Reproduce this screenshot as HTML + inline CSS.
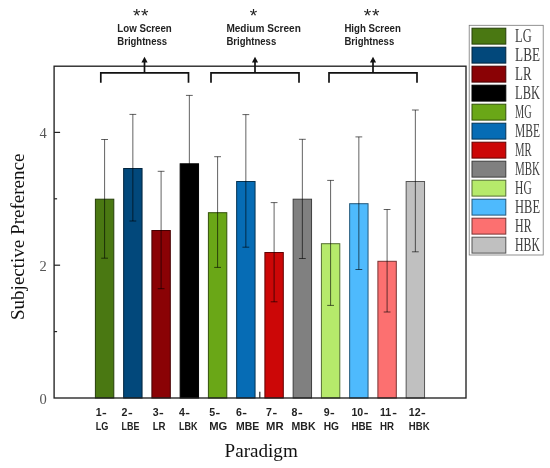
<!DOCTYPE html>
<html><head><meta charset="utf-8"><title>Subjective Preference by Paradigm</title>
<style>
html,body{margin:0;padding:0;background:#fff;}
body{width:550px;height:468px;overflow:hidden;}
svg{display:block;}
.sans{font-family:"Liberation Sans","DejaVu Sans",sans-serif;}
.serif{font-family:"Liberation Serif","DejaVu Serif",serif;}
.sb{font-weight:bold;fill:#222;}
</style></head><body>
<svg width="550" height="468" viewBox="0 0 550 468">
<rect width="550" height="468" fill="#fff"/>

<rect x="95.40" y="199.20" width="18.40" height="198.80" fill="#4a7812" stroke="#263f09" stroke-width="1"/>
<g stroke="#000" stroke-width="0.62" fill="none"><line x1="104.60" y1="139.50" x2="104.60" y2="258.20"/><line x1="101.20" y1="139.50" x2="108.00" y2="139.50"/><line x1="101.20" y1="258.20" x2="108.00" y2="258.20"/></g>
<rect x="123.65" y="168.50" width="18.40" height="229.50" fill="#02487b" stroke="#02243d" stroke-width="1"/>
<g stroke="#000" stroke-width="0.62" fill="none"><line x1="132.85" y1="114.40" x2="132.85" y2="221.00"/><line x1="129.45" y1="114.40" x2="136.25" y2="114.40"/><line x1="129.45" y1="221.00" x2="136.25" y2="221.00"/></g>
<rect x="151.90" y="230.50" width="18.40" height="167.50" fill="#8a0205" stroke="#450102" stroke-width="1"/>
<g stroke="#000" stroke-width="0.62" fill="none"><line x1="161.10" y1="171.30" x2="161.10" y2="288.70"/><line x1="157.70" y1="171.30" x2="164.50" y2="171.30"/><line x1="157.70" y1="288.70" x2="164.50" y2="288.70"/></g>
<rect x="180.15" y="163.80" width="18.40" height="234.20" fill="#000000" stroke="#000000" stroke-width="1"/>
<g stroke="#000" stroke-width="0.62" fill="none"><line x1="189.35" y1="95.40" x2="189.35" y2="231.20"/><line x1="185.95" y1="95.40" x2="192.75" y2="95.40"/><line x1="185.95" y1="231.20" x2="192.75" y2="231.20"/></g>
<rect x="208.40" y="212.70" width="18.40" height="185.30" fill="#6aa717" stroke="#33520a" stroke-width="1"/>
<g stroke="#000" stroke-width="0.62" fill="none"><line x1="217.60" y1="156.70" x2="217.60" y2="267.40"/><line x1="214.20" y1="156.70" x2="221.00" y2="156.70"/><line x1="214.20" y1="267.40" x2="221.00" y2="267.40"/></g>
<rect x="236.65" y="181.50" width="18.40" height="216.50" fill="#066cb5" stroke="#043353" stroke-width="1"/>
<g stroke="#000" stroke-width="0.62" fill="none"><line x1="245.85" y1="114.60" x2="245.85" y2="247.20"/><line x1="242.45" y1="114.60" x2="249.25" y2="114.60"/><line x1="242.45" y1="247.20" x2="249.25" y2="247.20"/></g>
<rect x="264.90" y="252.50" width="18.40" height="145.50" fill="#cc0707" stroke="#630303" stroke-width="1"/>
<g stroke="#000" stroke-width="0.62" fill="none"><line x1="274.10" y1="202.60" x2="274.10" y2="301.80"/><line x1="270.70" y1="202.60" x2="277.50" y2="202.60"/><line x1="270.70" y1="301.80" x2="277.50" y2="301.80"/></g>
<rect x="293.15" y="199.20" width="18.40" height="198.80" fill="#808080" stroke="#3d3d3d" stroke-width="1"/>
<g stroke="#000" stroke-width="0.62" fill="none"><line x1="302.35" y1="139.30" x2="302.35" y2="258.50"/><line x1="298.95" y1="139.30" x2="305.75" y2="139.30"/><line x1="298.95" y1="258.50" x2="305.75" y2="258.50"/></g>
<rect x="321.40" y="243.70" width="18.40" height="154.30" fill="#b6ea6b" stroke="#556e32" stroke-width="1"/>
<g stroke="#000" stroke-width="0.62" fill="none"><line x1="330.60" y1="180.40" x2="330.60" y2="305.40"/><line x1="327.20" y1="180.40" x2="334.00" y2="180.40"/><line x1="327.20" y1="305.40" x2="334.00" y2="305.40"/></g>
<rect x="349.65" y="203.70" width="18.40" height="194.30" fill="#4ebafd" stroke="#24587a" stroke-width="1"/>
<g stroke="#000" stroke-width="0.62" fill="none"><line x1="358.85" y1="136.90" x2="358.85" y2="269.50"/><line x1="355.45" y1="136.90" x2="362.25" y2="136.90"/><line x1="355.45" y1="269.50" x2="362.25" y2="269.50"/></g>
<rect x="377.90" y="261.30" width="18.40" height="136.70" fill="#fc7070" stroke="#783434" stroke-width="1"/>
<g stroke="#000" stroke-width="0.62" fill="none"><line x1="387.10" y1="209.50" x2="387.10" y2="312.00"/><line x1="383.70" y1="209.50" x2="390.50" y2="209.50"/><line x1="383.70" y1="312.00" x2="390.50" y2="312.00"/></g>
<rect x="406.15" y="181.50" width="18.40" height="216.50" fill="#c0c0c0" stroke="#555555" stroke-width="1"/>
<g stroke="#000" stroke-width="0.62" fill="none"><line x1="415.35" y1="110.00" x2="415.35" y2="251.80"/><line x1="411.95" y1="110.00" x2="418.75" y2="110.00"/><line x1="411.95" y1="251.80" x2="418.75" y2="251.80"/></g>
<rect x="54.1" y="66.2" width="411.9" height="331.80" fill="none" stroke="#222" stroke-width="1.35"/>
<text class="serif" x="46.8" y="403.60" font-size="14.5" fill="#555" text-anchor="end">0</text>
<line x1="54.1" y1="331.60" x2="57.1" y2="331.60" stroke="#222" stroke-width="1.2"/>
<line x1="54.1" y1="265.20" x2="60.1" y2="265.20" stroke="#222" stroke-width="1.2"/>
<text class="serif" x="46.8" y="270.80" font-size="14.5" fill="#555" text-anchor="end">2</text>
<line x1="54.1" y1="198.80" x2="57.1" y2="198.80" stroke="#222" stroke-width="1.2"/>
<line x1="54.1" y1="132.40" x2="60.1" y2="132.40" stroke="#222" stroke-width="1.2"/>
<text class="serif" x="46.8" y="138.00" font-size="14.5" fill="#555" text-anchor="end">4</text>
<line x1="259.8" y1="398.0" x2="259.8" y2="391.7" stroke="#222" stroke-width="1.2"/>
<path d="M100.8 82.8 V72.8 H188.5 V82.8" fill="none" stroke="#111" stroke-width="1.7"/><line x1="144.5" y1="72.8" x2="144.5" y2="61.5" stroke="#111" stroke-width="1.7"/><path d="M141.4 62.6 L144.5 56.8 L147.6 62.6 Z" fill="#111"/>
<path d="M211 82.8 V72.8 H299 V82.8" fill="none" stroke="#111" stroke-width="1.7"/><line x1="255" y1="72.8" x2="255" y2="61.5" stroke="#111" stroke-width="1.7"/><path d="M251.9 62.6 L255 56.8 L258.1 62.6 Z" fill="#111"/>
<path d="M329 82.8 V72.8 H417 V82.8" fill="none" stroke="#111" stroke-width="1.7"/><line x1="373" y1="72.8" x2="373" y2="61.5" stroke="#111" stroke-width="1.7"/><path d="M369.9 62.6 L373 56.8 L376.1 62.6 Z" fill="#111"/>
<text class="sans" x="133.0" y="21.7" font-size="19.2" letter-spacing="0.65" fill="#222">**</text><text class="sans sb" x="117.3" y="32.1" font-size="10.1" textLength="54.5" lengthAdjust="spacingAndGlyphs">Low Screen</text><text class="sans sb" x="117.3" y="44.6" font-size="10.1" textLength="49.8" lengthAdjust="spacingAndGlyphs">Brightness</text>
<text class="sans" x="249.8" y="21.7" font-size="19.2" letter-spacing="0.65" fill="#222">*</text><text class="sans sb" x="226.4" y="32.1" font-size="10.1" textLength="74.4" lengthAdjust="spacingAndGlyphs">Medium Screen</text><text class="sans sb" x="226.4" y="44.6" font-size="10.1" textLength="49.8" lengthAdjust="spacingAndGlyphs">Brightness</text>
<text class="sans" x="363.8" y="21.7" font-size="19.2" letter-spacing="0.65" fill="#222">**</text><text class="sans sb" x="344.4" y="32.1" font-size="10.1" textLength="56.4" lengthAdjust="spacingAndGlyphs">High Screen</text><text class="sans sb" x="344.4" y="44.6" font-size="10.1" textLength="49.8" lengthAdjust="spacingAndGlyphs">Brightness</text>
<text class="sans sb" x="95.7" y="415.8" font-size="10.6">1<tspan x="102.0" textLength="4.7" lengthAdjust="spacingAndGlyphs">-</tspan></text><text class="sans sb" x="95.7" y="429.7" font-size="10.6" textLength="12.7" lengthAdjust="spacingAndGlyphs">LG</text>
<text class="sans sb" x="121.6" y="415.8" font-size="10.6">2<tspan x="127.89999999999999" textLength="4.7" lengthAdjust="spacingAndGlyphs">-</tspan></text><text class="sans sb" x="121.6" y="429.7" font-size="10.6" textLength="17.8" lengthAdjust="spacingAndGlyphs">LBE</text>
<text class="sans sb" x="152.7" y="415.8" font-size="10.6">3<tspan x="159.0" textLength="4.7" lengthAdjust="spacingAndGlyphs">-</tspan></text><text class="sans sb" x="152.7" y="429.7" font-size="10.6" textLength="12.9" lengthAdjust="spacingAndGlyphs">LR</text>
<text class="sans sb" x="178.9" y="415.8" font-size="10.6">4<tspan x="185.20000000000002" textLength="4.7" lengthAdjust="spacingAndGlyphs">-</tspan></text><text class="sans sb" x="178.9" y="429.7" font-size="10.6" textLength="18.5" lengthAdjust="spacingAndGlyphs">LBK</text>
<text class="sans sb" x="209.2" y="415.8" font-size="10.6">5<tspan x="215.5" textLength="4.7" lengthAdjust="spacingAndGlyphs">-</tspan></text><text class="sans sb" x="209.2" y="429.7" font-size="10.6" textLength="18.1" lengthAdjust="spacingAndGlyphs">MG</text>
<text class="sans sb" x="236.0" y="415.8" font-size="10.6">6<tspan x="242.3" textLength="4.7" lengthAdjust="spacingAndGlyphs">-</tspan></text><text class="sans sb" x="236.0" y="429.7" font-size="10.6" textLength="23.3" lengthAdjust="spacingAndGlyphs">MBE</text>
<text class="sans sb" x="266.1" y="415.8" font-size="10.6">7<tspan x="272.40000000000003" textLength="4.7" lengthAdjust="spacingAndGlyphs">-</tspan></text><text class="sans sb" x="266.1" y="429.7" font-size="10.6" textLength="17.5" lengthAdjust="spacingAndGlyphs">MR</text>
<text class="sans sb" x="291.6" y="415.8" font-size="10.6">8<tspan x="297.90000000000003" textLength="4.7" lengthAdjust="spacingAndGlyphs">-</tspan></text><text class="sans sb" x="291.6" y="429.7" font-size="10.6" textLength="24.0" lengthAdjust="spacingAndGlyphs">MBK</text>
<text class="sans sb" x="323.7" y="415.8" font-size="10.6">9<tspan x="330.0" textLength="4.7" lengthAdjust="spacingAndGlyphs">-</tspan></text><text class="sans sb" x="323.7" y="429.7" font-size="10.6" textLength="15.3" lengthAdjust="spacingAndGlyphs">HG</text>
<text class="sans sb" x="351.4" y="415.8" font-size="10.6">10<tspan x="363.7" textLength="4.7" lengthAdjust="spacingAndGlyphs">-</tspan></text><text class="sans sb" x="351.4" y="429.7" font-size="10.6" textLength="20.8" lengthAdjust="spacingAndGlyphs">HBE</text>
<text class="sans sb" x="380.0" y="415.8" font-size="10.6">11<tspan x="392.3" textLength="4.7" lengthAdjust="spacingAndGlyphs">-</tspan></text><text class="sans sb" x="380.0" y="429.7" font-size="10.6" textLength="14.0" lengthAdjust="spacingAndGlyphs">HR</text>
<text class="sans sb" x="408.8" y="415.8" font-size="10.6">12<tspan x="421.1" textLength="4.7" lengthAdjust="spacingAndGlyphs">-</tspan></text><text class="sans sb" x="408.8" y="429.7" font-size="10.6" textLength="20.8" lengthAdjust="spacingAndGlyphs">HBK</text>
<text class="serif" x="261.2" y="456.6" font-size="19.1" fill="#111" text-anchor="middle">Paradigm</text>
<text class="serif" transform="translate(24.0,236.8) rotate(-90)" font-size="19.05" fill="#111" text-anchor="middle">Subjective Preference</text>
<rect x="469.2" y="25.3" width="74.0" height="229.7" fill="#fff" stroke="#777" stroke-width="0.8"/>
<rect x="472.0" y="28.2" width="33.8" height="15.9" fill="#4a7812" stroke="#263f09" stroke-width="1"/>
<text class="serif" x="515.1" y="42.3" font-size="18.4" fill="#404040" textLength="16.6" lengthAdjust="spacingAndGlyphs">LG</text>
<rect x="472.0" y="47.2" width="33.8" height="15.9" fill="#02487b" stroke="#02243d" stroke-width="1"/>
<text class="serif" x="515.1" y="61.3" font-size="18.4" fill="#404040" textLength="24.9" lengthAdjust="spacingAndGlyphs">LBE</text>
<rect x="472.0" y="66.2" width="33.8" height="15.9" fill="#8a0205" stroke="#450102" stroke-width="1"/>
<text class="serif" x="515.1" y="80.3" font-size="18.4" fill="#404040" textLength="16.6" lengthAdjust="spacingAndGlyphs">LR</text>
<rect x="472.0" y="85.2" width="33.8" height="15.9" fill="#000000" stroke="#000000" stroke-width="1"/>
<text class="serif" x="515.1" y="99.3" font-size="18.4" fill="#404040" textLength="24.9" lengthAdjust="spacingAndGlyphs">LBK</text>
<rect x="472.0" y="104.2" width="33.8" height="15.9" fill="#6aa717" stroke="#33520a" stroke-width="1"/>
<text class="serif" x="515.1" y="118.3" font-size="18.4" fill="#404040" textLength="16.6" lengthAdjust="spacingAndGlyphs">MG</text>
<rect x="472.0" y="123.2" width="33.8" height="15.9" fill="#066cb5" stroke="#043353" stroke-width="1"/>
<text class="serif" x="515.1" y="137.3" font-size="18.4" fill="#404040" textLength="24.9" lengthAdjust="spacingAndGlyphs">MBE</text>
<rect x="472.0" y="142.2" width="33.8" height="15.9" fill="#cc0707" stroke="#630303" stroke-width="1"/>
<text class="serif" x="515.1" y="156.3" font-size="18.4" fill="#404040" textLength="16.6" lengthAdjust="spacingAndGlyphs">MR</text>
<rect x="472.0" y="161.2" width="33.8" height="15.9" fill="#808080" stroke="#3d3d3d" stroke-width="1"/>
<text class="serif" x="515.1" y="175.3" font-size="18.4" fill="#404040" textLength="24.9" lengthAdjust="spacingAndGlyphs">MBK</text>
<rect x="472.0" y="180.2" width="33.8" height="15.9" fill="#b6ea6b" stroke="#556e32" stroke-width="1"/>
<text class="serif" x="515.1" y="194.3" font-size="18.4" fill="#404040" textLength="16.6" lengthAdjust="spacingAndGlyphs">HG</text>
<rect x="472.0" y="199.2" width="33.8" height="15.9" fill="#4ebafd" stroke="#24587a" stroke-width="1"/>
<text class="serif" x="515.1" y="213.3" font-size="18.4" fill="#404040" textLength="24.9" lengthAdjust="spacingAndGlyphs">HBE</text>
<rect x="472.0" y="218.2" width="33.8" height="15.9" fill="#fc7070" stroke="#783434" stroke-width="1"/>
<text class="serif" x="515.1" y="232.3" font-size="18.4" fill="#404040" textLength="16.6" lengthAdjust="spacingAndGlyphs">HR</text>
<rect x="472.0" y="237.2" width="33.8" height="15.9" fill="#c0c0c0" stroke="#555555" stroke-width="1"/>
<text class="serif" x="515.1" y="251.3" font-size="18.4" fill="#404040" textLength="24.9" lengthAdjust="spacingAndGlyphs">HBK</text>
</svg></body></html>
